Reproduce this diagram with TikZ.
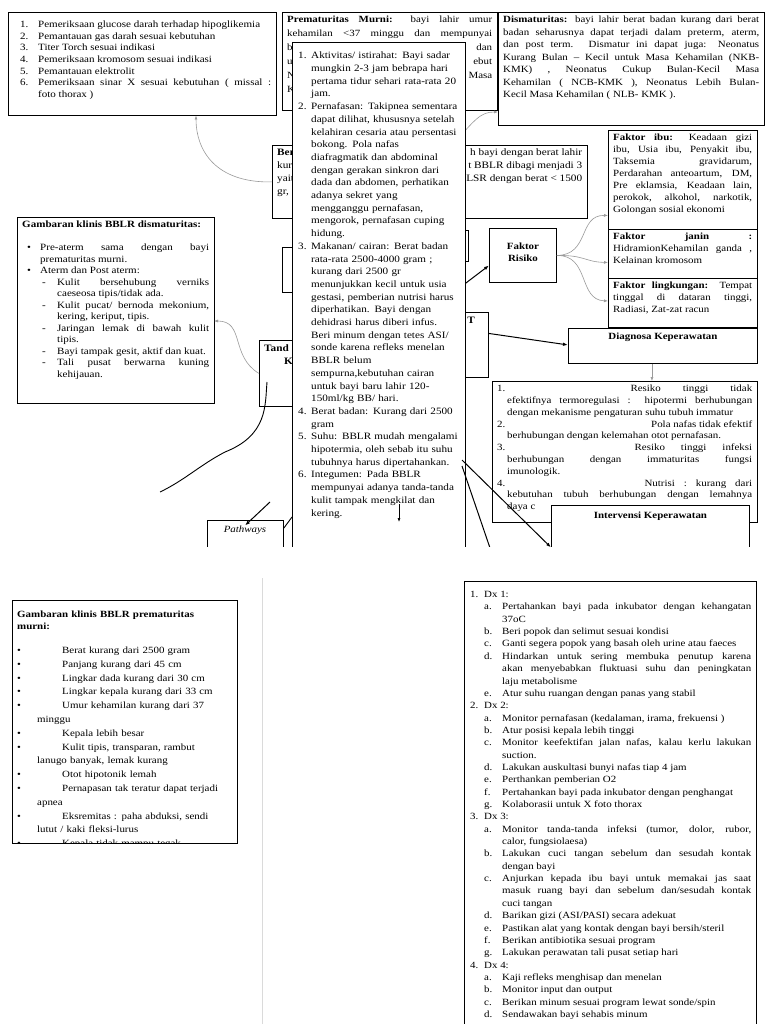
\documentclass[tikz,border=0pt]{standalone}
\usepackage{fontspec}
\setmainfont{Liberation Serif}[FakeStretch=1.15]
\usetikzlibrary{arrows.meta,positioning}
\definecolor{linkgray}{HTML}{9A9A9A}
\definecolor{pagegray}{HTML}{DADADA}
\setlength{\parindent}{0pt}
% list line with hanging indent: offset, hang, label, text
\newcommand{\hitem}[4]{\par\noindent\hangindent=#2\hangafter=1\hspace*{#1}\makebox[\dimexpr#2-#1\relax][l]{#3}#4\par}

\begin{document}
\begin{tikzpicture}[x=1pt, y=-1pt,
    panel/.style={draw=black, line width=0.9pt, fill=white, inner sep=0pt, anchor=north west},
    txt/.style={anchor=north west, inner xsep=5pt, inner ysep=4pt, align=justify,
      font=\fontsize{9.5}{11.5}\selectfont},
    head/.style={inner sep=2pt, align=center, font=\bfseries\fontsize{9.5}{12}\selectfont},
    link/.style={draw=linkgray, line width=0.6pt, -{Latex[length=4pt,width=3pt]}},
    wire/.style={draw=black, line width=1pt, -{Latex[length=5pt,width=3.5pt]}}
  ]
  \useasboundingbox[fill=white] (0,0) rectangle (768,1024);

  % ---------------- first page
  \begin{scope}
    \clip (0,0) rectangle (768,546);

    \node[panel, minimum width=268pt, minimum height=103pt] (lab) at (8,12) {};
    \node[txt, text width=258pt, font=\fontsize{9.6}{11.6}\selectfont] (lab-t) at (lab.north west) {%
      \hitem{7pt}{25pt}{1.}{Pemeriksaan glucose darah terhadap hipoglikemia}
      \hitem{7pt}{25pt}{2.}{Pemantauan gas darah sesuai kebutuhan}
      \hitem{7pt}{25pt}{3.}{Titer Torch sesuai indikasi}
      \hitem{7pt}{25pt}{4.}{Pemeriksaan kromosom sesuai indikasi}
      \hitem{7pt}{25pt}{5.}{Pemantauan elektrolit}
      \hitem{7pt}{25pt}{6.}{Pemeriksaan sinar X sesuai kebutuhan ( missal :\linebreak foto thorax )}};

    \node[panel, minimum width=215pt, minimum height=98pt] (pure) at (282,12) {};
    \node[txt, text width=205pt, font=\fontsize{9.5}{14}\selectfont] (pure-t) at (pure.north west)
      {\textbf{Prematuritas Murni:} bayi lahir umur\linebreak
       kehamilan <37 minggu dan mempunyai\linebreak
       b\hfill dan\linebreak u\hfill ebut\linebreak N\hfill Masa\linebreak K};

    \node[panel, minimum width=266pt, minimum height=113pt] (dism) at (498,12) {};
    \node[txt, text width=256pt, font=\fontsize{9.5}{12.5}\selectfont] (dism-t) at (dism.north west)
      {\textbf{Dismaturitas:} bayi lahir berat badan kurang dari berat\linebreak
       badan seharusnya dapat terjadi dalam preterm, aterm,\linebreak
       dan post term. Dismatur ini dapat juga: Neonatus\linebreak
       Kurang Bulan – Kecil untuk Masa Kehamilan (NKB-\linebreak
       KMK) , Neonatus Cukup Bulan-Kecil Masa\linebreak
       Kehamilan ( NCB-KMK ), Neonatus Lebih Bulan-\linebreak
       Kecil Masa Kehamilan ( NLB- KMK ).};

    \node[panel, minimum width=315pt, minimum height=73pt] (bblr) at (272,145) {};
    \node[txt, text width=305pt, font=\fontsize{9.8}{13}\selectfont] (bblr-t) at (bblr.north west)
      {\textbf{Ber}\hfill h bayi dengan berat lahir\linebreak
       kur\hfill t BBLR dibagi menjadi 3\linebreak
       yait\hfill LSR dengan berat < 1500\linebreak
       gr,};

    \node[panel, minimum width=197pt, minimum height=186pt] (dgam) at (17,217) {};
    \node[txt, text width=187pt, font=\fontsize{9.6}{11.5}\selectfont] (dgam-t) at (dgam.north west) {%
      \textbf{Gambaran klinis BBLR dismaturitas:}\par\vspace{11.5pt}
      \hitem{5pt}{18pt}{\textbullet}{Pre-aterm sama dengan bayi\linebreak prematuritas murni.}
      \hitem{5pt}{18pt}{\textbullet}{Aterm dan Post aterm:}
      \hitem{20pt}{35pt}{-}{Kulit bersehubung verniks\linebreak caeseosa tipis/tidak ada.}
      \hitem{20pt}{35pt}{-}{Kulit pucat/ bernoda mekonium,\linebreak kering, keriput, tipis.}
      \hitem{20pt}{35pt}{-}{Jaringan lemak di bawah kulit\linebreak tipis.}
      \hitem{20pt}{35pt}{-}{Bayi tampak gesit, aktif dan kuat.}
      \hitem{20pt}{35pt}{-}{Tali pusat berwarna kuning\linebreak kehijauan.}};

    \node[panel, minimum width=180pt, minimum height=66pt] (sign) at (259,340) {};
    \node[txt, align=left, font=\bfseries\fontsize{9.8}{13}\selectfont] (sign-t) at (sign.north west)
      {Tand\\\hspace*{20pt}K};

    \node[panel, minimum width=60pt, minimum height=65pt] (assess) at (428,312) {};
    \node[anchor=north east, inner sep=0pt, font=\bfseries\fontsize{9.8}{12}\selectfont] (assess-t)
      at (475,317) {T};

    \node[panel, minimum width=100pt, minimum height=45pt] (sub) at (282,247) {};
    \node[panel, minimum width=50pt, minimum height=31pt] (aux) at (418,230) {};

    \node[panel, minimum width=67pt, minimum height=54pt] (risk) at (489,228) {};
    \node[head] (risk-t) at ([yshift=3pt]risk.center) {Faktor\\Risiko};

    \node[panel, minimum width=149pt, minimum height=99pt] (mom) at (608,130) {};
    \node[txt, text width=139pt, font=\fontsize{9.5}{12}\selectfont] (mom-t) at (mom.north west)
      {\textbf{Faktor ibu:} Keadaan gizi\linebreak ibu, Usia ibu, Penyakit ibu,\linebreak
       Taksemia gravidarum,\linebreak Perdarahan anteoartum, DM,\linebreak
       Pre eklamsia, Keadaan lain,\linebreak perokok, alkohol, narkotik,\linebreak
       Golongan sosial ekonomi};
    \node[panel, minimum width=149pt, minimum height=49pt] (fetus) at (608,229) {};
    \node[txt, text width=139pt, font=\fontsize{9.5}{12}\selectfont] (fetus-t) at (fetus.north west)
      {\textbf{Faktor janin :}\linebreak HidramionKehamilan ganda ,\linebreak Kelainan kromosom};
    \node[panel, minimum width=149pt, minimum height=49pt] (env) at (608,278) {};
    \node[txt, text width=139pt, font=\fontsize{9.5}{12}\selectfont] (env-t) at (env.north west)
      {\textbf{Faktor lingkungan:} Tempat\linebreak tinggal di dataran tinggi,\linebreak Radiasi, Zat-zat racun};

    \node[panel, minimum width=189pt, minimum height=35pt] (diag) at (568,328) {};
    \node[head, anchor=north] (diag-t) at ([yshift=-3pt]diag.north) {Diagnosa Keperawatan};

    \node[panel, minimum width=265pt, minimum height=141pt] (dlist) at (492,381) {};
    \node[txt, text width=255pt, font=\fontsize{9.5}{11.8}\selectfont] (dlist-t) at (dlist.north west) {%
      \noindent\hangindent=10pt\hangafter=1 1.\hfill Resiko\hspace{22pt}tinggi\hspace{22pt}tidak\linebreak
        efektifnya termoregulasi : hipotermi berhubungan\linebreak
        dengan mekanisme pengaturan suhu tubuh immatur\par
      \noindent\hangindent=10pt\hangafter=1 2.\hfill Pola nafas tidak efektif\linebreak
        berhubungan dengan kelemahan otot pernafasan.\par
      \noindent\hangindent=10pt\hangafter=1 3.\hfill Resiko\hspace{16pt}tinggi\hspace{16pt}infeksi\linebreak
        berhubungan dengan immaturitas fungsi\linebreak imunologik.\par
      \noindent\hangindent=10pt\hangafter=1 4.\hfill Nutrisi\hspace{9pt}:\hspace{9pt}kurang\hspace{9pt}dari\linebreak
        kebutuhan tubuh berhubungan dengan lemahnya\linebreak daya c\par};

    % connectors under the column
    \coordinate (lab-in) at (196,115.5);
    \coordinate (bblr-out) at (452,145);
    \coordinate (dism-in) at (498,112);
    \coordinate (dgam-in) at (214,321);
    \coordinate (risk-src) at (462,286);
    \coordinate (care-src) at (462,460);
    \coordinate (next-end) at (490,548);
    \coordinate (path-src) at (270,502);
    \coordinate (sign-out) at (267,382);
    \coordinate (sign-end) at (160,492);
    \draw[link] (bblr.west) .. controls (215,183) and (196,150) .. (lab-in);
    \draw[link] (bblr-out) .. controls (475,120) and (480,112) .. (dism-in);
    \draw[link] (sign.west) .. controls (230,356) and (245,321) .. (dgam-in);
    \draw[link] (risk.east) .. controls (590,255) and (578,215) .. ([yshift=-35.5pt]mom.west);
    \draw[link] (risk.east) .. controls (585,255) and (585,262) .. ([yshift=-8.5pt]fetus.west);
    \draw[link] (risk.east) .. controls (590,255) and (578,300) .. ([yshift=2pt]env.west);
    \draw[wire] (risk-src) -- ([yshift=-10pt]risk.west);
    \draw[wire] ([yshift=11.5pt]assess.east) -- ([yshift=1pt]diag.west);
    \draw[link] ([xshift=-11pt]diag.south) -- ([xshift=-11pt]diag.south |- dlist.north);
    \draw[line width=0.9pt] (sign-out) .. controls (265,405) and (268,435) .. (225,452)
      .. controls (200,465) and (185,480) .. (sign-end);

    % pengkajian column
    \node[panel, minimum width=173pt, minimum height=520pt] (focus) at (292,42) {};
    \node[txt, text width=165pt, inner xsep=4pt, align=left, font=\fontsize{9.7}{12.7}\selectfont] (focus-t) at (focus.north west) {%
      \hitem{2pt}{15pt}{1.}{Aktivitas/ istirahat: Bayi sadar\newline mungkin 2-3 jam bebrapa hari\newline
        pertama tidur sehari rata-rata 20\newline jam.}
      \hitem{2pt}{15pt}{2.}{Pernafasan: Takipnea sementara\newline dapat dilihat, khususnya setelah\newline
        kelahiran cesaria atau persentasi\newline bokong. Pola nafas\newline diafragmatik dan abdominal\newline
        dengan gerakan sinkron dari\newline dada dan abdomen, perhatikan\newline adanya sekret yang\newline
        mengganggu pernafasan,\newline mengorok, pernafasan cuping\newline hidung.}
      \hitem{2pt}{15pt}{3.}{Makanan/ cairan: Berat badan\newline rata-rata 2500-4000 gram ;\newline
        kurang dari 2500 gr\newline menunjukkan kecil untuk usia\newline gestasi, pemberian nutrisi harus\newline
        diperhatikan. Bayi dengan\newline dehidrasi harus diberi infus.\newline Beri minum dengan tetes ASI/\newline
        sonde karena refleks menelan\newline BBLR belum\newline sempurna,kebutuhan cairan\newline
        untuk bayi baru lahir 120-\newline 150ml/kg BB/ hari.}
      \hitem{2pt}{15pt}{4.}{Berat badan: Kurang dari 2500\newline gram}
      \hitem{2pt}{15pt}{5.}{Suhu: BBLR mudah mengalami\newline hipotermia, oleh sebab itu suhu\newline
        tubuhnya harus dipertahankan.}
      \hitem{2pt}{15pt}{6.}{Integumen: Pada BBLR\newline mempunyai adanya tanda-tanda\newline
        kulit tampak mengkilat dan\newline kering.}};
    \coordinate (focus-a) at (399,504);
    \coordinate (focus-b) at (399,522);
    \draw[-{Latex[length=4pt,width=3pt]}, line width=0.6pt] (focus-a) -- (focus-b);

    \node[panel, minimum width=198pt, minimum height=60pt] (care) at (551,505) {};
    \node[head, anchor=north] (care-t) at ([yshift=-5pt]care.north) {Intervensi Keperawatan};
    \draw[wire] (care-src) -- ([yshift=-12pt]care.west);
    \draw[line width=1pt] (462,466) -- (next-end);

    \node[panel, minimum width=76pt, minimum height=40pt] (path) at (207,520) {};
    \node[font=\itshape\fontsize{9.5}{12}\selectfont, inner sep=0pt] (path-t) at (245,530) {Pathways};
    \draw[wire] (path-src) -- (path-t.north);
    \draw[line width=0.9pt] (path.north east) ++(0,8) -- (292,517);
  \end{scope}

  % ---------------- second page
  \draw[pagegray, line width=0.8pt] (262,578) -- (262,1024);

  \node[panel, minimum width=225pt, minimum height=243pt] (pgam) at (12,600) {};
  \node[txt, text width=215pt, align=left, font=\fontsize{9.5}{13.8}\selectfont] (pgam-t)
    at ([yshift=-7pt]pgam.north west) {%
    {\fontsize{9.5}{12}\selectfont\textbf{Gambaran klinis BBLR prematuritas\newline murni:}\par}\vspace{10pt}
    \hitem{0pt}{20pt}{\textbullet}{\hspace*{25pt}Berat kurang dari 2500 gram}
    \hitem{0pt}{20pt}{\textbullet}{\hspace*{25pt}Panjang kurang dari 45 cm}
    \hitem{0pt}{20pt}{\textbullet}{\hspace*{25pt}Lingkar dada kurang dari 30 cm}
    \hitem{0pt}{20pt}{\textbullet}{\hspace*{25pt}Lingkar kepala kurang dari 33 cm}
    \hitem{0pt}{20pt}{\textbullet}{\hspace*{25pt}Umur kehamilan kurang dari 37\newline minggu}
    \hitem{0pt}{20pt}{\textbullet}{\hspace*{25pt}Kepala lebih besar}
    \hitem{0pt}{20pt}{\textbullet}{\hspace*{25pt}Kulit tipis, transparan, rambut\newline lanugo banyak, lemak kurang}
    \hitem{0pt}{20pt}{\textbullet}{\hspace*{25pt}Otot hipotonik lemah}
    \hitem{0pt}{20pt}{\textbullet}{\hspace*{25pt}Pernapasan tak teratur dapat terjadi\newline apnea}
    \hitem{0pt}{20pt}{\textbullet}{\hspace*{25pt}Eksremitas : paha abduksi, sendi\newline lutut / kaki fleksi-lurus}
    \hitem{0pt}{20pt}{\textbullet}{\hspace*{25pt}Kepala tidak mampu tegak}};
  % the last line is cut by the box edge
  \fill[white] (12.5,843.5) rectangle (236.5,860);
  \draw[line width=0.9pt] (pgam.south west) -- (pgam.south east);

  \node[panel, minimum width=292pt, minimum height=460pt] (plan) at (464,581) {};
  \node[txt, text width=282pt, font=\fontsize{9.5}{12.35}\selectfont] (plan-t) at (plan.north west) {%
    \hitem{1pt}{15pt}{1.}{Dx 1:}
    \hitem{15pt}{33pt}{a.}{Pertahankan bayi pada inkubator dengan kehangatan\linebreak 37oC}
    \hitem{15pt}{33pt}{b.}{Beri popok dan selimut sesuai kondisi}
    \hitem{15pt}{33pt}{c.}{Ganti segera popok yang basah oleh urine atau faeces}
    \hitem{15pt}{33pt}{d.}{Hindarkan untuk sering membuka penutup karena\linebreak akan menyebabkan fluktuasi suhu dan peningkatan\linebreak laju metabolisme}
    \hitem{15pt}{33pt}{e.}{Atur suhu ruangan dengan panas yang stabil}
    \hitem{1pt}{15pt}{2.}{Dx 2:}
    \hitem{15pt}{33pt}{a.}{Monitor pernafasan (kedalaman, irama, frekuensi )}
    \hitem{15pt}{33pt}{b.}{Atur posisi kepala lebih tinggi}
    \hitem{15pt}{33pt}{c.}{Monitor keefektifan jalan nafas, kalau kerlu lakukan\linebreak suction.}
    \hitem{15pt}{33pt}{d.}{Lakukan auskultasi bunyi nafas tiap 4 jam}
    \hitem{15pt}{33pt}{e.}{Perthankan pemberian O2}
    \hitem{15pt}{33pt}{f.}{Pertahankan bayi pada inkubator dengan penghangat}
    \hitem{15pt}{33pt}{g.}{Kolaborasii untuk X foto thorax}
    \hitem{1pt}{15pt}{3.}{Dx 3:}
    \hitem{15pt}{33pt}{a.}{Monitor tanda-tanda infeksi (tumor, dolor, rubor,\linebreak calor, fungsiolaesa)}
    \hitem{15pt}{33pt}{b.}{Lakukan cuci tangan sebelum dan sesudah kontak\linebreak dengan bayi}
    \hitem{15pt}{33pt}{c.}{Anjurkan kepada ibu bayi untuk memakai jas saat\linebreak masuk ruang bayi dan sebelum dan/sesudah kontak\linebreak cuci tangan}
    \hitem{15pt}{33pt}{d.}{Barikan gizi (ASI/PASI) secara adekuat}
    \hitem{15pt}{33pt}{e.}{Pastikan alat yang kontak dengan bayi bersih/steril}
    \hitem{15pt}{33pt}{f.}{Berikan antibiotika sesuai program}
    \hitem{15pt}{33pt}{g.}{Lakukan perawatan tali pusat setiap hari}
    \hitem{1pt}{15pt}{4.}{Dx 4:}
    \hitem{15pt}{33pt}{a.}{Kaji refleks menghisap dan menelan}
    \hitem{15pt}{33pt}{b.}{Monitor input dan output}
    \hitem{15pt}{33pt}{c.}{Berikan minum sesuai program lewat sonde/spin}
    \hitem{15pt}{33pt}{d.}{Sendawakan bayi sehabis minum}};
\end{tikzpicture}
\end{document}
